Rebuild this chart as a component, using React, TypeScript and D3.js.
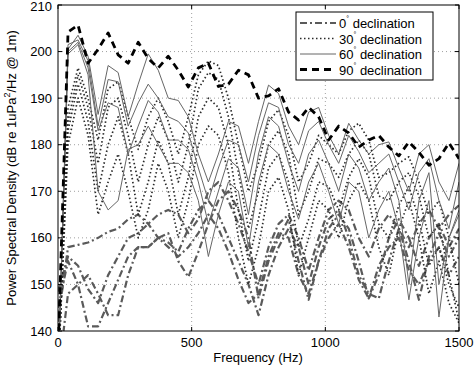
import React from "react";
import * as d3 from "d3";

// Frequency grid (Hz): 0, 37.5, ..., 1500
const frequencies: number[] = Array.from({ length: 41 }, (_, i) => i * 37.5);

// 0° declination (dash-dot)
const dec0A = [148.5, 156, 154, 149, 146, 152, 156, 160, 161, 163, 165, 166, 165, 161, 164, 170, 172, 168, 163, 157, 150, 158, 163, 165, 160, 153, 160, 166, 168, 166, 160, 156, 162, 165, 162, 158, 163, 166, 162, 165, 167];
const dec0B = [145, 155, 150, 141, 141, 146, 151, 156, 158, 158, 160, 161, 155, 151.6, 157, 163, 168, 170, 166, 160, 147, 155, 160, 164, 155, 146.7, 155, 162, 165, 162, 155, 147, 152, 160, 164, 160, 154, 160, 163, 158, 162];
const dec0C = [142, 158, 158.5, 159, 160, 161.3, 162, 164, 165, 163, 160, 159, 157, 162, 166, 168, 165, 160, 155, 150, 143.4, 152, 158, 162, 158, 150, 158, 164, 166, 160, 152, 148, 147, 155, 162, 155, 146.7, 156, 161, 156, 160];
const dec0D = [130, 148, 150, 152, 148, 143.4, 143.4, 152, 158, 158, 160, 158, 156, 158, 161, 165, 162, 157, 151, 146, 148, 156, 161, 160, 152, 148, 155, 160, 163, 158, 151, 147, 154, 158, 160, 153, 150, 155, 158, 152, 156];

// 30° declination (dotted)
const dec30A = [130, 188, 196.5, 190, 181, 192, 193.5, 186, 179, 186, 190, 185, 178, 186, 195, 198, 197, 190, 180, 170, 176, 185, 187.5, 182, 172, 176, 182, 180, 178, 183, 184.6, 181, 173, 174, 176, 177.4, 172, 165, 168, 160, 150];
const dec30B = [130, 185, 195, 188, 176, 188, 190, 182, 172, 180, 186, 181, 172, 180, 192, 195.5, 194, 186, 174, 162, 170, 180, 183, 178, 165, 170, 177, 176, 173, 178, 181, 178, 169, 168, 172, 174, 169, 160, 163, 152, 142];
const dec30C = [130, 183, 193, 185, 170, 180, 186, 178, 165, 172, 181, 176, 165, 173, 186, 190, 188, 180, 166, 155, 164, 175, 178, 172, 158, 164, 172, 171, 166, 173, 177, 173, 163, 160, 167, 171, 164, 154, 158, 150, 145];
const dec30D = [130, 180, 190, 182, 165, 172, 178, 170, 160, 166, 176, 170, 160, 168, 180, 184, 182, 174, 160, 150, 158, 170, 173, 166, 152, 160, 168, 166, 160, 168, 172, 168, 158, 152, 162, 168, 160, 148, 155, 146, 141.7];

// 60° declination (solid)
const dec60A = [130, 200.5, 203.5, 199, 186.5, 197, 195.5, 186, 193, 199.5, 196, 190, 189.5, 186, 178, 172, 178, 185, 184, 176, 185, 192.8, 191, 184, 180, 187, 188, 182, 178, 184.6, 181, 178, 180, 180.6, 175, 170, 178, 180, 172, 168, 176];
const dec60B = [130, 201.5, 202.5, 198, 184, 194, 193.5, 184, 189, 193, 190, 186, 185, 182.5, 175, 168, 175, 181, 180, 172, 182, 189, 188, 180, 176, 183, 185, 180, 176, 182, 178.5, 174, 176, 178, 172, 166, 174, 177, 168, 162, 172];
const dec60C = [130, 200, 202, 196.5, 183, 189, 188, 178, 184, 189.5, 187, 181, 181, 179, 172, 163, 170, 177, 175, 165, 178, 186, 184, 176, 170, 178, 181, 176, 170, 178, 175, 168, 172, 175, 168, 150, 168, 174, 150, 160, 166];
const dec60D = [130, 199.5, 201.5, 195, 170, 166, 168, 179, 180, 184, 180, 176, 176, 174, 168, 156, 165, 172, 170, 158, 172, 180, 178, 170, 164, 172, 176, 170, 163, 172, 170, 160, 166, 170, 162, 146.7, 160, 168, 143, 160, 165];

// 90° declination (dashed)
const dec90 = [135, 204.2, 205.7, 197.5, 200.5, 204, 199.3, 197.5, 202, 198.5, 196.5, 199, 196, 192.4, 196.5, 197.5, 192.5, 193, 196, 195, 190, 190.5, 192, 187, 185.3, 188, 186, 181, 184, 182.5, 179.5, 181, 182, 179.5, 177.6, 180.6, 178.4, 175.6, 177, 180.4, 177];

const xTicks = [0, 500, 1000, 1500];
const yTicks = [140, 150, 160, 170, 180, 190, 200, 210];

const legendNums = ["0", "30", "60", "90"];

type Style = { stroke: string; width: number; dash: string };
const styles: Style[] = [
  { stroke: "#5a5a5a", width: 2.2, dash: "7,3,2,3" },
  { stroke: "#2a2a2a", width: 1.7, dash: "1.5,2.5" },
  { stroke: "#666666", width: 1, dash: "" },
  { stroke: "#000000", width: 2.8, dash: "7,5" },
];

const groups: number[][][] = [
  [dec0A, dec0B, dec0C, dec0D],
  [dec30A, dec30B, dec30C, dec30D],
  [dec60A, dec60B, dec60C, dec60D],
  [dec90],
];

export default function App() {
  const W = 474, H = 365;
  const left = 58, right = 459, top = 5, bottom = 331;
  const x = d3.scaleLinear().domain([0, 1500]).range([left, right]);
  const y = d3.scaleLinear().domain([140, 210]).range([bottom, top]);
  const line = d3
    .line<number>()
    .x((_, i) => x(frequencies[i]))
    .y((v) => y(v));
  const font = "'Liberation Sans', Arial, sans-serif";

  return (
    <svg
      width={W}
      height={H}
      style={{ position: "absolute", left: 0, top: 0, background: "#fff" }}
      fontFamily={font}
    >
      <defs>
        <clipPath id="plot">
          <rect x={left} y={top} width={right - left} height={bottom - top} />
        </clipPath>
      </defs>
      <rect x={0} y={0} width={W} height={H} fill="#fff" />
      {/* grid */}
      {xTicks.slice(1, -1).map((t) => (
        <line key={"gx" + t} x1={x(t)} x2={x(t)} y1={top} y2={bottom} stroke="#888" strokeWidth={0.8} strokeDasharray="1,3" />
      ))}
      {yTicks.slice(1, -1).map((t) => (
        <line key={"gy" + t} x1={left} x2={right} y1={y(t)} y2={y(t)} stroke="#888" strokeWidth={0.8} strokeDasharray="1,3" />
      ))}
      {/* series */}
      <g clipPath="url(#plot)">
        {groups.map((g, gi) =>
          g.map((s, si) => (
            <path
              key={gi + "-" + si}
              d={line(s) || ""}
              fill="none"
              stroke={styles[gi].stroke}
              strokeWidth={styles[gi].width}
              strokeDasharray={styles[gi].dash || undefined}
              strokeLinejoin="round"
            />
          ))
        )}
      </g>
      {/* box */}
      <rect x={left} y={top} width={right - left} height={bottom - top} fill="none" stroke="#000" strokeWidth={1} />
      {/* ticks */}
      {xTicks.map((t) => (
        <g key={"tx" + t}>
          <line x1={x(t)} x2={x(t)} y1={bottom} y2={bottom - 4} stroke="#000" />
          <line x1={x(t)} x2={x(t)} y1={top} y2={top + 4} stroke="#000" />
          <text x={x(t)} y={347} textAnchor="middle" fontSize={13}>{t}</text>
        </g>
      ))}
      {yTicks.map((t) => (
        <g key={"ty" + t}>
          <line x1={left} x2={left + 4} y1={y(t)} y2={y(t)} stroke="#000" />
          <line x1={right} x2={right - 4} y1={y(t)} y2={y(t)} stroke="#000" />
          <text x={52} y={Math.max(y(t) + 4.5, 11)} textAnchor="end" fontSize={13}>{t}</text>
        </g>
      ))}
      {/* axis labels */}
      <text x={258} y={362} textAnchor="middle" fontSize={13}>Frequency (Hz)</text>
      <text transform="translate(16,168) rotate(-90)" textAnchor="middle" fontSize={13}>
        Power Spectral Density (dB re 1uPa
        <tspan fontSize={9} dy={-6}>2</tspan>
        <tspan dy={6}>/Hz @ 1m)</tspan>
      </text>
      {/* legend */}
      <rect x={296} y={12} width={137} height={68} fill="#fff" stroke="#000" strokeWidth={1} />
      {legendNums.map((n, i) => {
        const ly = 23 + i * 15.5;
        return (
          <g key={"lg" + n}>
            <line x1={300} x2={336} y1={ly} y2={ly} stroke={styles[i].stroke} strokeWidth={styles[i].width} strokeDasharray={styles[i].dash || undefined} />
            <text x={339} y={ly + 5} fontSize={13}>
              {n}
              <tspan fontSize={7} dy={-7}>°</tspan>
              <tspan dy={7}>{"  declination"}</tspan>
            </text>
          </g>
        );
      })}
    </svg>
  );
}
